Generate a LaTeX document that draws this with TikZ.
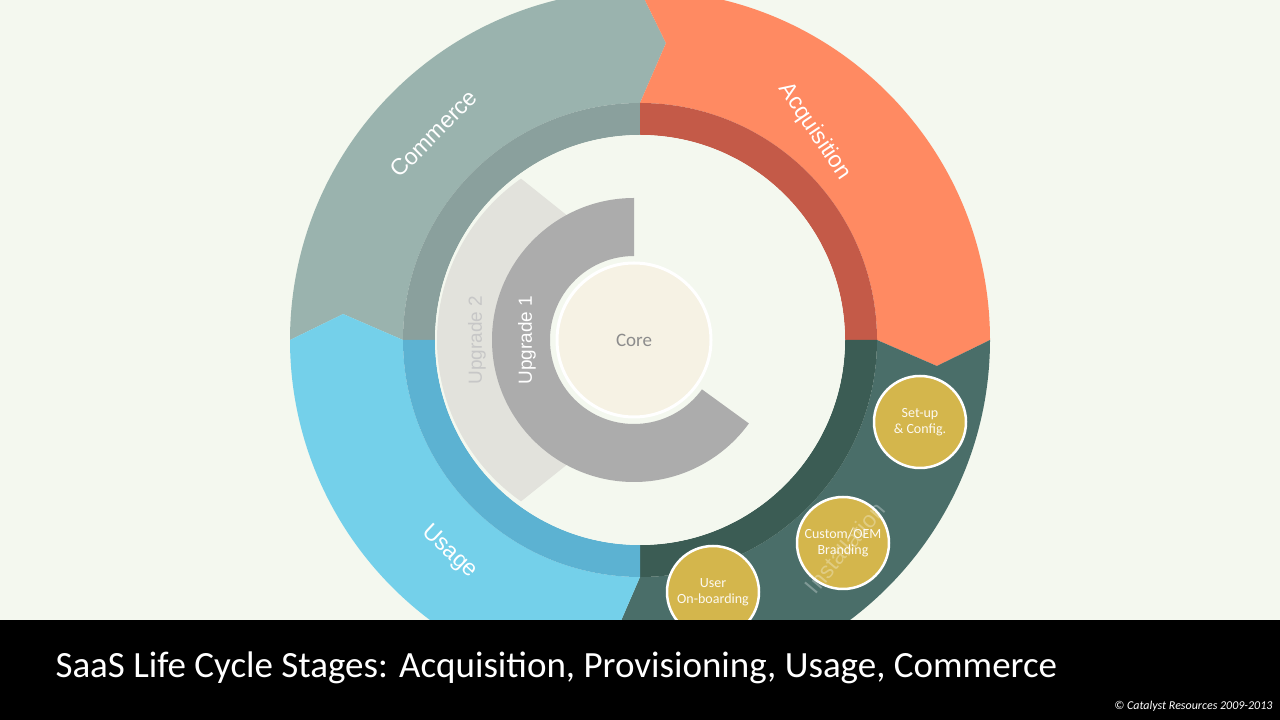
\documentclass[tikz,border=0pt]{standalone}
\usepackage{fontspec}
\setmainfont{Carlito}
\newfontfamily\lab{Liberation Sans}
\definecolor{bg}{HTML}{F4F8EF}
\definecolor{comC}{HTML}{9AB3AE}
\definecolor{acqC}{HTML}{FF8A62}
\definecolor{insC}{HTML}{4A6E69}
\definecolor{useC}{HTML}{74D0EA}
\definecolor{comB}{HTML}{8AA09D}
\definecolor{acqB}{HTML}{C45A48}
\definecolor{insB}{HTML}{3B5C54}
\definecolor{useB}{HTML}{5CB2D2}
\definecolor{upA}{HTML}{ACACAC}
\definecolor{upB}{HTML}{E2E2DC}
\definecolor{coreC}{HTML}{F6F2E4}
\definecolor{dotC}{HTML}{D4B64C}
\newcommand{\segm}[2]{%
 \fill[#2] (#1:350) arc[start angle=#1,end angle=#1-90,radius=350] -- (#1-95:298) -- (#1-90:237)
   arc[start angle=#1-90,end angle=#1,radius=237] -- (#1-5:298) -- cycle;}
\tikzset{ringlab/.style={text=white,font=\lab\fontsize{23}{25}\selectfont},
 dot/.style={circle,fill=dotC,draw=white,line width=2.5pt,minimum size=92pt,inner sep=0pt,align=center,text=white!92!dotC,font=\fontsize{14}{16}\selectfont}}
\begin{document}
\begin{tikzpicture}[x=1pt,y=1pt]
\useasboundingbox (0,0) rectangle (1280,720);
\fill[bg] (0,0) rectangle (1280,720);
\begin{scope}
\clip (0,0) rectangle (1280,720);
\begin{scope}[shift={(640,380)}]
\segm{180}{comC}
\segm{90}{acqC}
\segm{0}{insC}
\segm{270}{useC}
\fill[comB] (180:237) arc[start angle=180,end angle=90,radius=237] -- (90:205) arc[start angle=90,end angle=180,radius=205] -- cycle;
\fill[acqB] (90:237) arc[start angle=90,end angle=0,radius=237] -- (0:205) arc[start angle=0,end angle=90,radius=205] -- cycle;
\fill[insB] (0:237) arc[start angle=0,end angle=-90,radius=237] -- (-90:205) arc[start angle=-90,end angle=0,radius=205] -- cycle;
\fill[useB] (-90:237) arc[start angle=-90,end angle=-180,radius=237] -- (-180:205) arc[start angle=-180,end angle=-90,radius=205] -- cycle;
\fill[bg] (0,0) circle (205);
\node[ringlab,rotate=45] (com) at (135:292) {Commerce};
\node[ringlab,rotate=-56] (acq) at (50:272) {Acquisition};
\node[ringlab,rotate=-43] (use) at (-132:285) {Usage};
\end{scope}
\begin{scope}[shift={(634,380)}]
\fill[upB] (125:197) arc[start angle=125,end angle=235,radius=197] -- (242:140) arc[start angle=242,end angle=118,radius=140] -- cycle;
\fill[upA] (90:142) arc[start angle=90,end angle=324,radius=142] -- (324:84) arc[start angle=324,end angle=90,radius=84] -- cycle;
\node[rotate=90,text=black!22,font=\lab\fontsize{19}{20}\selectfont] (u2) at (180:157) {Upgrade 2};
\node[rotate=90,text=white,font=\lab\fontsize{19}{20}\selectfont] (u1) at (180:107) {Upgrade 1};
\node[circle,fill=coreC,draw=white,line width=3pt,minimum size=154pt,text=black!45,font=\fontsize{19}{20}\selectfont] (core) at (0,0) {Core};
\end{scope}
\node[dot] (setup) at (920,298) {Set-up\\\& Config.};
\node[dot] (oem) at (843,177) {Custom/OEM\\Branding};
\node[dot] (user) at (713,128) {User\\On-boarding};
\node[text=white,opacity=0.3,font=\lab\fontsize{23}{25}\selectfont,rotate=50] (ins) at (845,172) {Installation};
\end{scope}
\fill[black] (0,0) rectangle (1280,100);
\node[anchor=west,text=white,font=\fontsize{37}{40}\selectfont] (title) at (52,52) {SaaS Life Cycle Stages: Acquisition, Provisioning, Usage, Commerce};
\node[anchor=east,text=white,font=\itshape\fontsize{12}{13}\selectfont] (copy) at (1276,14) {© Catalyst Resources 2009-2013};
\end{tikzpicture}
\end{document}
